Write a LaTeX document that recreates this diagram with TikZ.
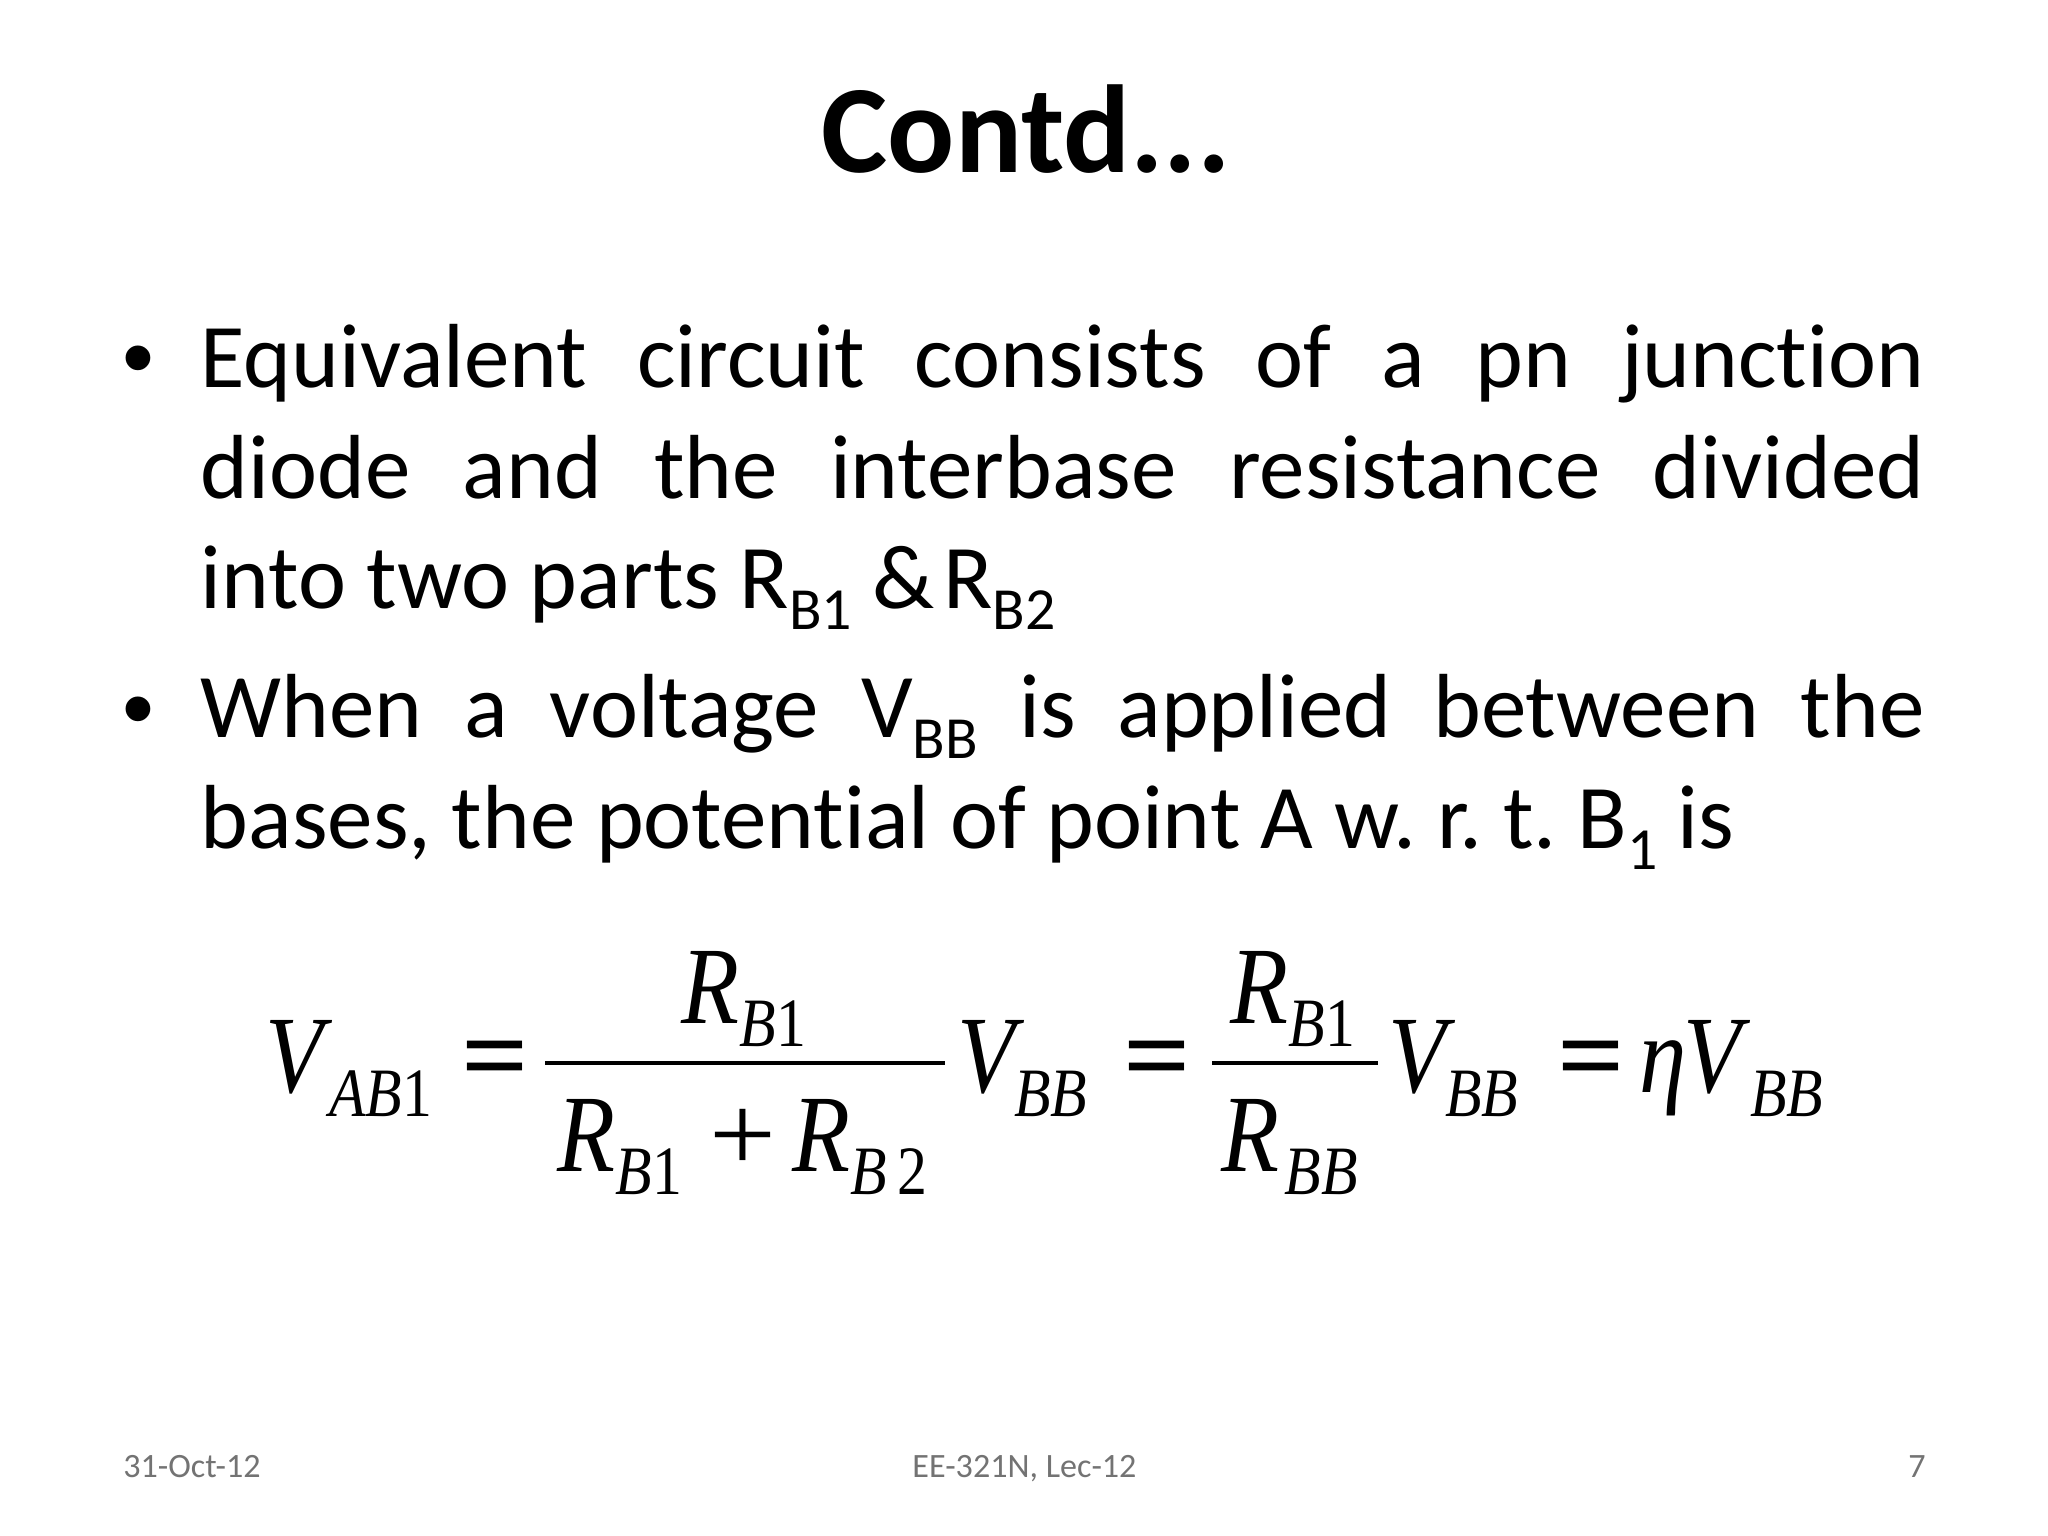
\documentclass[tikz,border=0pt]{standalone}
\usepackage{fontspec}
\setmainfont{Carlito}[Ligatures=NoCommon]
\newfontfamily\eqnfont{Liberation Serif}
\newfontfamily\markfont{Liberation Sans}
\usepackage{tikz}
\usetikzlibrary{positioning}
\tikzset{
  bodytext/.style={anchor=north west, inner sep=0pt, text width=17.24cm, align=justify,
    font=\fontsize{25.9pt}{31.4pt}\selectfont},
  bulletmark/.style={anchor=base, inner sep=0pt, font=\markfont\fontsize{25.9pt}{31.4pt}\selectfont},
  footer/.style={anchor=base, inner sep=0pt, text=black!55, font=\fontsize{9.7pt}{12pt}\selectfont},
  eqn/.style={anchor=base west, inner sep=0pt, font=\eqnfont\fontsize{27pt}{32pt}\selectfont},
  fracrule/.style={line width=1.4pt},
}
\newcommand{\subtxt}[1]{\smash{\raisebox{-6pt}{\fontsize{17pt}{20pt}\selectfont #1}}}
\newcommand{\eqit}[2]{\scalebox{1}[1.16]{\textit{#1}\raisebox{-5.7pt}{\fontsize{17pt}{20pt}\selectfont #2}}}
\newcommand{\eqsym}[1]{\scalebox{1.25}[1.16]{\textbf{#1}}}
\begin{document}
\begin{tikzpicture}[x=1cm, y=-1cm]
    \useasboundingbox (0, 0) rectangle (20.48, 15.36);

    \node[anchor=base, inner sep=0pt, font=\bfseries\fontsize{35.6pt}{40pt}\selectfont] (title) at (10.26, 1.73) {Contd...};

    \node[bulletmark] (markA) at (1.38, 3.89) {•};
    \node[bodytext] (textA) at (2.00, 3.24) {\frenchspacing Equivalent circuit consists of a pn junction\linebreak diode and the interbase resistance divided\linebreak into two parts R\subtxt{B1} \&\hspace{-3.4pt} R\subtxt{B2}};

    \node[bulletmark] (markB) at (1.38, 7.39) {•};
    \node[bodytext] (textB) at (2.00, 6.74) {\frenchspacing When a voltage V\subtxt{BB} is applied between the\linebreak bases, the potential of point A w. r. t. B\subtxt{1} is};

    % left hand side
    \node[eqn] (vab) at (2.65, 10.93) {\eqit{V}{\hspace{-1pt}\textit{AB}1}};
    \node[eqn] (eqA) at (4.61, 10.93) {\eqsym{=}};
    % first fraction
    \node[eqn] (numA) at (6.81, 10.23) {\eqit{R}{\textit{B}1}};
    \node[eqn] (denA) at (5.57, 11.71) {\eqit{R}{\textit{B}1}};
    \node[eqn] (plus) at (7.09, 11.71) {\scalebox{1.25}[1.16]{+}};
    \node[eqn] (denAb) at (7.92, 11.71) {\eqit{R}{\textit{B}\hspace{3pt}2}};
    \coordinate (ruleAl) at (5.45, 10.63);
    \coordinate (ruleAr) at (9.45, 10.63);
    \draw[fracrule] (ruleAl) -- (ruleAr);
    \node[eqn] (vbbA) at (9.57, 10.93) {\eqit{V}{\hspace{-3pt}\textit{BB}}};
    \node[eqn] (eqB) at (11.23, 10.93) {\eqsym{=}};
    % second fraction
    \node[eqn] (numB) at (12.30, 10.23) {\eqit{R}{\textit{B}1}};
    \node[eqn] (denB) at (12.21, 11.71) {\eqit{R}{\hspace{1.5pt}\textit{BB}}};
    \coordinate (ruleBl) at (12.12, 10.63);
    \coordinate (ruleBr) at (13.78, 10.63);
    \draw[fracrule] (ruleBl) -- (ruleBr);
    \node[eqn] (vbbB) at (13.88, 10.93) {\eqit{V}{\hspace{-3pt}\textit{BB}}};
    \node[eqn] (eqC) at (15.57, 10.93) {\eqsym{=}};
    \node[eqn] (etaV) at (16.39, 10.93) {\eqit{η\hspace{-1pt}V}{\textit{BB}}};

    \node[footer] (date) at (1.92, 14.77) {31-Oct-12};
    \node[footer] (lec) at (10.245, 14.77) {EE-321N, Lec-12};
    \node[footer] (page) at (19.17, 14.77) {7};
\end{tikzpicture}
\end{document}
